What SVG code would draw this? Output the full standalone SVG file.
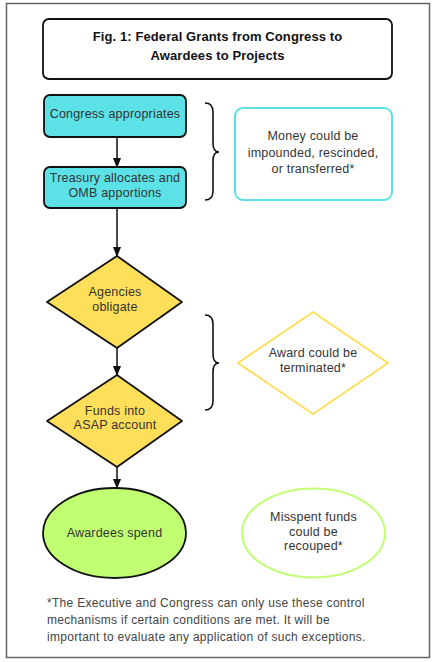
<svg xmlns="http://www.w3.org/2000/svg" width="436" height="662" viewBox="0 0 436 662">
<style>
text{font-family:"Liberation Sans",Arial,sans-serif;fill:#333;text-anchor:middle}
.t{font-size:12.5px;letter-spacing:0.2px}
.title{font-size:13px;font-weight:bold;fill:#111;letter-spacing:0.1px}
.foot{font-size:12px;fill:#444;text-anchor:start;letter-spacing:0.3px}
.conn{stroke:#111;stroke-width:1.5;fill:none}
.brace{stroke:#111;stroke-width:1.6;fill:none}
.cyan{fill:#5ce1e6;stroke:#111;stroke-width:1.8}
.yel{fill:#ffde59;stroke:#111;stroke-width:1.8;stroke-linejoin:round}
</style>
<defs>
<marker id="ah" viewBox="0 0 10 10" refX="9" refY="5" markerWidth="7" markerHeight="7" orient="auto">
<path d="M0,1 L10,5 L0,9 z" fill="#111"/>
</marker>
</defs>
<rect x="6.5" y="3.5" width="423" height="654" fill="#fff" stroke="#666" stroke-width="1.5"/>
<g id="title">
<rect x="43" y="19" width="349" height="60" rx="6" fill="#fff" stroke="#111" stroke-width="1.8"/>
<text class="title" x="217.5" y="41">Fig. 1: Federal Grants from Congress to</text>
<text class="title" x="217.5" y="60">Awardees to Projects</text>
</g>
<g id="connectors">
<line class="conn" x1="117" y1="137" x2="117" y2="167" marker-end="url(#ah)"/>
<line class="conn" x1="117" y1="208" x2="117" y2="256" marker-end="url(#ah)"/>
<line class="conn" x1="117" y1="348" x2="117" y2="375" marker-end="url(#ah)"/>
<line class="conn" x1="117" y1="467" x2="117" y2="488" marker-end="url(#ah)"/>
<path class="brace" d="M205,103 Q213,103 213,112 L213,143 Q213,152 219,152 Q213,152 213,161 L213,191 Q213,200 205,200"/>
<path class="brace" d="M205,315 Q213,315 213,324 L213,354 Q213,363 219,363 Q213,363 213,372 L213,401 Q213,410 205,410"/>
</g>
<g id="congress">
<rect class="cyan" x="44" y="95" width="142" height="42" rx="6"/>
<text class="t" x="115" y="117.5">Congress appropriates</text>
</g>
<g id="treasury">
<rect class="cyan" x="44" y="167" width="142" height="41" rx="6"/>
<text class="t" x="115" y="181.5">Treasury allocates and</text>
<text class="t" x="115" y="196.5">OMB apportions</text>
</g>
<g id="money">
<rect x="235" y="108" width="157" height="92" rx="8" fill="#fff" stroke="#5ce1e6" stroke-width="2"/>
<text class="t" x="313" y="140">Money could be</text>
<text class="t" x="313" y="157">impounded, rescinded,</text>
<text class="t" x="313" y="173">or transferred*</text>
</g>
<g id="agencies">
<path class="yel" d="M117,256 L182,302 L117,348 L47,302 Z"/>
<text class="t" x="115" y="296">Agencies</text>
<text class="t" x="115" y="310.5">obligate</text>
</g>
<g id="funds">
<path class="yel" d="M117,375 L182,421 L117,467 L47,421 Z"/>
<text class="t" x="115" y="415">Funds into</text>
<text class="t" x="115" y="428.5">ASAP account</text>
</g>
<g id="award">
<path d="M313,312 L388,363 L313,414 L238,363 Z" fill="#fff" stroke="#ffde59" stroke-width="2" stroke-linejoin="round"/>
<text class="t" x="313" y="357">Award could be</text>
<text class="t" x="313" y="372">terminated*</text>
</g>
<g id="awardees">
<ellipse cx="114.5" cy="533" rx="71.5" ry="45" fill="#c1ff72" stroke="#111" stroke-width="1.8"/>
<text class="t" x="114.5" y="537">Awardees spend</text>
</g>
<g id="misspent">
<ellipse cx="313.5" cy="533" rx="71.5" ry="44.5" fill="#fff" stroke="#c1ff72" stroke-width="2"/>
<text class="t" x="313.5" y="521">Misspent funds</text>
<text class="t" x="313.5" y="536">could be</text>
<text class="t" x="313.5" y="550">recouped*</text>
</g>
<g id="footnote">
<text class="foot" x="47" y="607">*The Executive and Congress can only use these control</text>
<text class="foot" x="47" y="624">mechanisms if certain conditions are met. It will be</text>
<text class="foot" x="47" y="641">important to evaluate any application of such exceptions.</text>
</g>
</svg>
